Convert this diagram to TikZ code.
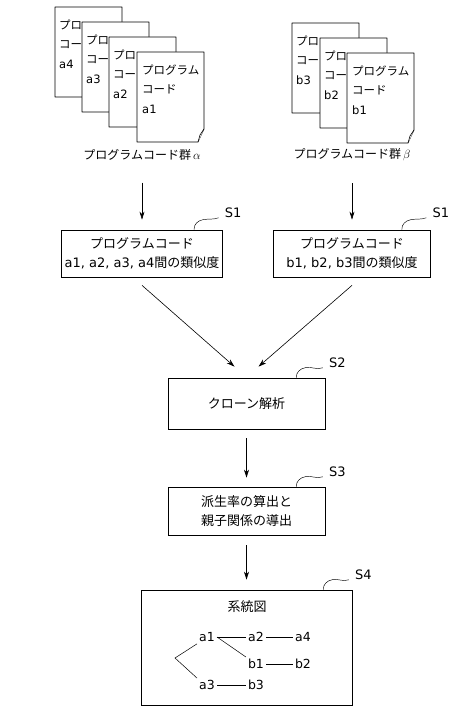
\documentclass[tikz,border=0pt]{standalone}
\usepackage{fontspec}
\setmainfont{Noto Sans CJK JP}
\newfontfamily\lat{DejaVu Sans}
\usetikzlibrary{arrows.meta}
\tikzset{
  sheet/.style={fill=white, draw=black, line width=0.6pt, line join=round},
  sheettext/.style={anchor=north west, inner sep=0pt, align=left, font=\fontsize{11.5}{19.5}\selectfont},
  grouplabel/.style={inner sep=1pt, font=\fontsize{12}{14}\selectfont},
  stepbox/.style={draw=black, line width=0.7pt, minimum width=157pt, align=center, font=\fontsize{13}{19}\selectfont},
  flow/.style={line width=0.6pt, -{Stealth[length=8pt,width=5pt]}},
  tagline/.style={line width=0.45pt},
  taglabel/.style={inner sep=0pt, font=\lat\fontsize{13}{15}\selectfont},
  treelabel/.style={inner sep=2pt, font=\lat\fontsize{12.5}{15}\selectfont},
  treeline/.style={line width=0.5pt},
}

\begin{document}
\begin{tikzpicture}[x=1pt,y=-1pt]
\useasboundingbox (0,0) rectangle (474,711);
% group alpha
\draw[sheet] (55,7) -- ++(67,0) -- ++(0,77) -- ++(-6,13) -- ++(-61,0) -- cycle;
\node[sheettext] (a4sheet) at (59,19.5) {プロ\\コー\\{\lat a4}};
\draw[sheet] (82,22) -- ++(67,0) -- ++(0,77) -- ++(-6,13) -- ++(-61,0) -- cycle;
\node[sheettext] (a3sheet) at (86,34.5) {プロ\\コー\\{\lat a3}};
\draw[sheet] (109,37) -- ++(67,0) -- ++(0,77) -- ++(-6,13) -- ++(-61,0) -- cycle;
\node[sheettext] (a2sheet) at (113,49.5) {プロ\\コー\\{\lat a2}};
\draw[sheet] (137,52) -- ++(67,0) -- ++(0,77) -- ++(-6,13) -- ++(-61,0) -- cycle;
\draw[sheet] (204,129) -- ++(-4,6) -- ++(-2,7);
\node[sheettext] (a1sheet) at (142,64.5) {プログラム\\コード\\{\lat a1}};
\node[grouplabel] (grpa) at (142,155) {プログラムコード群\,$\alpha$};
% group beta
\draw[sheet] (292,23) -- ++(67,0) -- ++(0,77) -- ++(-6,13) -- ++(-61,0) -- cycle;
\node[sheettext] (b3sheet) at (296,35.5) {プロ\\コー\\{\lat b3}};
\draw[sheet] (320,38) -- ++(67,0) -- ++(0,77) -- ++(-6,13) -- ++(-61,0) -- cycle;
\node[sheettext] (b2sheet) at (324,50.5) {プロ\\コー\\{\lat b2}};
\draw[sheet] (347,53) -- ++(67,0) -- ++(0,77) -- ++(-6,13) -- ++(-61,0) -- cycle;
\draw[sheet] (414,130) -- ++(-4,6) -- ++(-2,7);
\node[sheettext] (b1sheet) at (352,65.5) {プログラム\\コード\\{\lat b1}};
\node[grouplabel] (grpb) at (352,155) {プログラムコード群\,$\beta$};

% steps
\node[stepbox, minimum height=47pt] (s1a) at (142,253.5) {プログラムコード\\{\lat a1, a2, a3, a4}間の類似度};
\node[stepbox, minimum height=47pt] (s1b) at (352,253.5) {プログラムコード\\{\lat b1, b2, b3}間の類似度};
\node[stepbox, minimum height=51pt] (s2) at (246.5,403.5) {クローン解析};
\node[stepbox, minimum height=48pt] (s3) at (246.5,511) {派生率の算出と\\親子関係の導出};
\node[stepbox, minimum width=211pt, minimum height=115pt] (s4) at (246.5,647.5) {};
\node[inner sep=0pt, font=\fontsize{13}{15}\selectfont] (s4title) at (247,607) {系統図};

\draw[flow] ([yshift=-21pt]grpa.south) -- ([yshift=10pt]s1a.north);
\draw[flow] ([yshift=-21pt]grpb.south) -- ([yshift=10pt]s1b.north);
\draw[flow] ([yshift=-8pt]s1a.south) -- ([xshift=-12pt,yshift=11pt]s2.north);
\draw[flow] ([yshift=-8pt]s1b.south) -- ([xshift=12pt,yshift=11pt]s2.north);
\draw[flow] ([yshift=-9pt]s2.south) -- ([yshift=9pt]s3.north);
\draw[flow] ([yshift=-10pt]s3.south) -- ([yshift=10pt]s4.north);

% step tags
\node[taglabel] (s1atag) at ([xshift=10pt,yshift=17pt]s1a.north east) {S1};
\node[taglabel] (s1btag) at ([xshift=10pt,yshift=17pt]s1b.north east) {S1};
\node[taglabel] (s2tag) at ([xshift=12pt,yshift=15pt]s2.north east) {S2};
\node[taglabel] (s3tag) at ([xshift=12pt,yshift=15pt]s3.north east) {S3};
\node[taglabel] (s4tag) at ([xshift=11pt,yshift=15pt]s4.north east) {S4};
\draw[tagline] ([xshift=-29pt]s1a.north east) to[out=95,in=190] ++(9,-10) to[out=10,in=200] ([xshift=-6pt]s1atag.south west);
\draw[tagline] ([xshift=-29pt]s1b.north east) to[out=95,in=190] ++(9,-10) to[out=10,in=200] ([xshift=-6pt]s1btag.south west);
\draw[tagline] ([xshift=-29pt]s2.north east) to[out=95,in=190] ++(9,-10) to[out=10,in=200] ([xshift=-6pt]s2tag.south west);
\draw[tagline] ([xshift=-29pt]s3.north east) to[out=95,in=190] ++(9,-10) to[out=10,in=200] ([xshift=-6pt]s3tag.south west);
\draw[tagline] ([xshift=-29pt]s4.north east) to[out=95,in=190] ++(9,-10) to[out=10,in=200] ([xshift=-6pt]s4tag.south west);

% lineage tree
\node[treelabel] (ta1) at (207,637) {a1};
\node[treelabel] (ta2) at (256,637) {a2};
\node[treelabel] (ta4) at (303,637) {a4};
\node[treelabel] (tb1) at (256,664) {b1};
\node[treelabel] (tb2) at (303,664) {b2};
\node[treelabel] (ta3) at (207,685) {a3};
\node[treelabel] (tb3) at (256,685) {b3};
\coordinate (troot) at (175,658);
\draw[treeline] (ta1.south west) -- (troot) -- (ta3.north west);
\draw[treeline] (ta1.east) -- (ta2.west);
\draw[treeline] (ta1.east) -- (tb1.north west);
\draw[treeline] (ta2.east) -- (ta4.west);
\draw[treeline] (tb1.east) -- (tb2.west);
\draw[treeline] (ta3.east) -- (tb3.west);
\end{tikzpicture}
\end{document}
